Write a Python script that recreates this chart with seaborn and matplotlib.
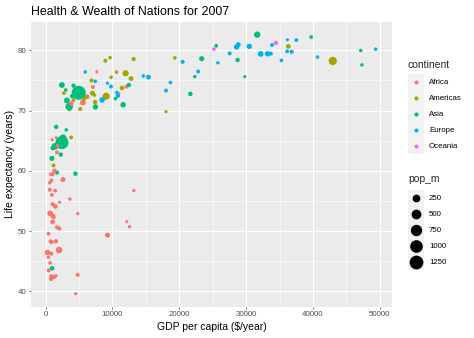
import numpy as np
import pandas as pd
import matplotlib
matplotlib.use("Agg")
import matplotlib.pyplot as plt
import seaborn as sns
from matplotlib.patches import Rectangle
from matplotlib.lines import Line2D

# ---------------- data (gapminder 2007) ----------------
africa_countries = ["Algeria", "Angola", "Benin", "Botswana", "Burkina Faso", "Burundi", "Cameroon",
                    "Central African Republic", "Chad", "Comoros", "Congo, Dem. Rep.", "Congo, Rep.",
                    "Cote d'Ivoire", "Djibouti", "Egypt", "Equatorial Guinea", "Eritrea", "Ethiopia",
                    "Gabon", "Gambia", "Ghana", "Guinea", "Guinea-Bissau", "Kenya", "Lesotho", "Liberia",
                    "Libya", "Madagascar", "Malawi", "Mali", "Mauritania", "Mauritius", "Morocco",
                    "Mozambique", "Namibia", "Niger", "Nigeria", "Reunion", "Rwanda",
                    "Sao Tome and Principe", "Senegal", "Sierra Leone", "Somalia", "South Africa", "Sudan",
                    "Swaziland", "Tanzania", "Togo", "Tunisia", "Uganda", "Zambia", "Zimbabwe"]
africa_gdp = [6223.367, 4797.231, 1441.285, 12569.85, 1217.033, 430.0707, 2042.095, 706.0165, 1704.064,
              986.1479, 277.5519, 3632.558, 1544.750, 2082.482, 5581.181, 12154.09, 641.3695, 690.8056,
              13206.48, 752.7497, 1327.609, 942.6542, 579.2317, 1463.249, 1569.331, 414.5073, 12057.50,
              1044.770, 759.3499, 1042.582, 1803.151, 10956.99, 3820.175, 823.6856, 4811.060, 619.6769,
              2013.977, 7670.123, 863.0885, 1598.435, 1712.473, 862.5408, 926.1411, 9269.658, 2602.395,
              4513.481, 1107.482, 882.9699, 7092.923, 1056.380, 1271.212, 469.7093]
africa_life = [72.301, 42.731, 56.728, 50.728, 52.295, 49.580, 50.430, 44.741, 50.651, 65.152, 46.462,
               55.322, 48.328, 54.791, 71.338, 51.579, 58.040, 52.947, 56.735, 59.448, 60.022, 56.007,
               46.388, 54.110, 42.592, 45.678, 73.952, 59.443, 48.303, 54.467, 64.164, 72.801, 71.164,
               42.082, 52.906, 56.867, 46.859, 76.442, 46.242, 65.528, 63.062, 42.568, 48.159, 49.339,
               58.556, 39.613, 52.517, 58.420, 73.923, 51.542, 42.384, 43.487]
africa_pop = [33.333, 12.420, 8.078, 1.639, 14.326, 8.391, 17.696, 4.369, 10.239, 0.711, 64.607, 3.801,
              18.013, 0.496, 80.265, 0.551, 4.907, 76.512, 1.455, 1.688, 22.873, 9.948, 1.472, 35.610,
              2.013, 3.194, 6.037, 19.168, 13.327, 12.032, 3.270, 1.251, 33.757, 19.952, 2.055, 12.895,
              135.031, 0.798, 8.861, 0.200, 12.267, 6.145, 9.119, 43.998, 42.293, 1.133, 38.140, 5.702,
              10.276, 29.170, 11.746, 12.311]

americas_countries = ["Argentina", "Bolivia", "Brazil", "Canada", "Chile", "Colombia", "Costa Rica", "Cuba",
                      "Dominican Republic", "Ecuador", "El Salvador", "Guatemala", "Haiti", "Honduras",
                      "Jamaica", "Mexico", "Nicaragua", "Panama", "Paraguay", "Peru", "Puerto Rico",
                      "Trinidad and Tobago", "United States", "Uruguay", "Venezuela"]
americas_gdp = [12779.38, 3822.137, 9065.801, 36319.24, 13171.64, 7006.580, 9645.061, 8948.103, 6025.375,
                6873.262, 5728.354, 5186.050, 1201.637, 3548.331, 7320.880, 11977.57, 2749.321, 9809.186,
                4172.838, 7408.906, 19328.71, 18008.51, 42951.65, 10611.46, 11415.81]
americas_life = [75.320, 65.554, 72.390, 80.653, 78.553, 72.889, 78.782, 78.273, 72.235, 74.994, 71.878,
                 70.259, 60.916, 70.198, 72.567, 76.195, 72.899, 75.537, 71.752, 71.421, 78.746, 69.819,
                 78.242, 76.384, 73.747]
americas_pop = [40.302, 9.119, 190.011, 33.390, 16.285, 44.228, 4.134, 11.417, 9.320, 13.756, 6.940,
                12.573, 8.503, 7.484, 2.780, 108.701, 5.675, 3.242, 6.667, 28.675, 3.942, 1.057,
                301.140, 3.447, 26.085]

asia_countries = ["Afghanistan", "Bahrain", "Bangladesh", "Cambodia", "China", "Hong Kong, China", "India",
                  "Indonesia", "Iran", "Iraq", "Israel", "Japan", "Jordan", "Korea, Dem. Rep.",
                  "Korea, Rep.", "Kuwait", "Lebanon", "Malaysia", "Mongolia", "Myanmar", "Nepal", "Oman",
                  "Pakistan", "Philippines", "Saudi Arabia", "Singapore", "Sri Lanka", "Syria", "Taiwan",
                  "Thailand", "Vietnam", "West Bank and Gaza", "Yemen, Rep."]
asia_gdp = [974.5803, 29796.05, 1391.254, 1713.779, 4959.115, 39724.98, 2452.210, 3540.652, 11605.71,
            4471.062, 25523.28, 31656.07, 4519.461, 1593.065, 23348.14, 47306.99, 10461.06, 12451.66,
            3095.772, 944.0000, 1091.360, 22316.19, 2605.948, 3190.481, 21654.83, 47143.18, 3970.095,
            4184.548, 28718.28, 7458.396, 2441.576, 3025.350, 2280.770]
asia_life = [43.828, 75.635, 64.062, 59.723, 72.961, 82.208, 64.698, 70.650, 70.964, 59.545, 80.745, 82.603,
             72.535, 67.297, 78.623, 77.588, 71.993, 74.241, 66.803, 62.069, 63.785, 75.640, 65.483, 71.688,
             72.777, 79.972, 72.396, 74.143, 78.400, 70.616, 74.249, 73.422, 62.698]
asia_pop = [31.890, 0.709, 150.448, 14.132, 1318.683, 6.980, 1110.396, 223.547, 69.454, 27.500, 6.427,
            127.468, 6.053, 23.302, 49.045, 2.506, 3.921, 24.821, 2.874, 47.762, 28.902, 3.205, 169.271,
            91.077, 27.601, 4.553, 20.378, 19.315, 23.174, 65.068, 85.262, 4.018, 22.212]

europe_countries = ["Albania", "Austria", "Belgium", "Bosnia and Herzegovina", "Bulgaria", "Croatia",
                    "Czech Republic", "Denmark", "Finland", "France", "Germany", "Greece", "Hungary",
                    "Iceland", "Ireland", "Italy", "Montenegro", "Netherlands", "Norway", "Poland",
                    "Portugal", "Romania", "Serbia", "Slovak Republic", "Slovenia", "Spain", "Sweden",
                    "Switzerland", "Turkey", "United Kingdom"]
europe_gdp = [5937.030, 36126.49, 33692.61, 7446.299, 10680.79, 14619.22, 22833.31, 35278.42, 33207.08,
              30470.02, 32170.37, 27538.41, 18008.94, 36180.79, 40676.00, 28569.72, 9253.896, 36797.93,
              49357.19, 15389.92, 20509.65, 10808.48, 9786.535, 18678.31, 25768.26, 28821.06, 33859.75,
              37506.42, 8458.276, 33203.26]
europe_life = [76.423, 79.829, 79.441, 74.852, 73.005, 75.748, 76.486, 78.332, 79.313, 80.657, 79.406,
               79.483, 73.338, 81.757, 78.885, 80.546, 74.543, 79.762, 80.196, 75.563, 78.098, 72.476,
               74.002, 74.663, 77.926, 80.941, 80.884, 81.701, 71.777, 79.425]
europe_pop = [3.601, 8.200, 10.392, 4.552, 7.323, 4.493, 10.229, 5.468, 5.238, 61.084, 82.401, 10.706,
              9.956, 0.302, 4.109, 58.148, 0.685, 16.571, 4.628, 38.518, 10.643, 22.276, 10.150, 5.448,
              2.009, 40.448, 9.031, 7.555, 71.159, 60.776]

oceania_countries = ["Australia", "New Zealand"]
oceania_gdp = [34435.37, 25185.01]
oceania_life = [81.235, 80.204]
oceania_pop = [20.434, 4.116]

continents = ["Africa", "Americas", "Asia", "Europe", "Oceania"]
size_breaks = [250, 500, 750, 1000, 1250]

# ---------------- table ----------------
parts = [
    ("Africa", africa_countries, africa_gdp, africa_life, africa_pop),
    ("Americas", americas_countries, americas_gdp, americas_life, americas_pop),
    ("Asia", asia_countries, asia_gdp, asia_life, asia_pop),
    ("Europe", europe_countries, europe_gdp, europe_life, europe_pop),
    ("Oceania", oceania_countries, oceania_gdp, oceania_life, oceania_pop),
]
frames = []
for cont, cc, g, l, p in parts:
    frames.append(pd.DataFrame({"country": cc, "continent": cont, "gdpPercap": g,
                                "lifeExp": l, "pop_m": p}))
df = pd.concat(frames).sort_values("country").reset_index(drop=True)

# ---------------- style ----------------
palette = dict(zip(continents, ["#F8766D", "#A3A500", "#00BF7D", "#00B0F6", "#E76BF3"]))
W, H = 474, 338
PX = 0.78           # image pixels per ggplot point
PT = 72.0 / 100.0   # matplotlib points per pixel at dpi 100

pmin, pmax = df["pop_m"].min(), df["pop_m"].max()


def gg_diam_px(v):
    size = 1 + 5 * np.sqrt(np.clip((v - pmin) / (pmax - pmin), 0, 1))
    return PX * (2.845 * size + 0.945)


size_map = {v: (gg_diam_px(v) * PT) ** 2 for v in df["pop_m"].unique()}

sns.set_theme(style="white")
plt.rcParams["font.family"] = ["Liberation Sans", "DejaVu Sans"]

fig = plt.figure(figsize=(W / 100, H / 100), dpi=100)
L, R, T, B = 31, 392, 21.7, 306.7
ax = fig.add_axes([L / W, 1 - B / H, (R - L) / W, (B - T) / H])
ax.set_facecolor("#EBEBEB")

sns.scatterplot(data=df, x="gdpPercap", y="lifeExp", hue="continent", hue_order=continents,
                palette=palette, size="pop_m", sizes=size_map, linewidth=0, alpha=1,
                legend=False, ax=ax, zorder=3)

xr = df["gdpPercap"].max() - df["gdpPercap"].min()
yr = df["lifeExp"].max() - df["lifeExp"].min()
ax.set_xlim(df["gdpPercap"].min() - 0.05 * xr, df["gdpPercap"].max() + 0.05 * xr)
ax.set_ylim(df["lifeExp"].min() - 0.05 * yr, df["lifeExp"].max() + 0.05 * yr)

ax.set_xticks([0, 10000, 20000, 30000, 40000, 50000])
ax.set_xticks([5000, 15000, 25000, 35000, 45000], minor=True)
ax.set_yticks([40, 50, 60, 70, 80])
ax.set_yticks([45, 55, 65, 75], minor=True)
ax.set_xticklabels(["0", "10000", "20000", "30000", "40000", "50000"])
ax.set_yticklabels(["40", "50", "60", "70", "80"])
ax.grid(which="major", color="white", linewidth=0.85, zorder=1)
ax.grid(which="minor", color="white", linewidth=0.42, zorder=1)
ax.set_axisbelow(True)
for s in ax.spines.values():
    s.set_visible(False)
ax.tick_params(which="major", length=1.5, width=0.5, color="#333333", labelcolor="#4D4D4D",
               labelsize=5.7, pad=1.8, bottom=True, left=True)
ax.tick_params(which="minor", length=0, bottom=False, left=False)
ax.set_xlabel("")
ax.set_ylabel("")


def fx(px):
    return px / W


def fy(py):
    return 1 - py / H


fig.text(fx(31), fy(15), "Health & Wealth of Nations for 2007", fontsize=8.9, color="black",
         ha="left", va="baseline")
fig.text(fx((L + R) / 2), fy(329.5), "GDP per capita ($/year)", fontsize=7.5, color="black",
         ha="center", va="baseline")
fig.text(fx(13.5), fy((T + B) / 2), "Life expectancy (years)", fontsize=7.5, color="black",
         ha="center", va="baseline", rotation=90, rotation_mode="anchor")

# ---------------- legends (ggplot style) ----------------
KX, KW = 408, 16
fig.text(fx(KX), fy(67.5), "continent", fontsize=7.5, ha="left", va="baseline")
y0 = 74
for i, c in enumerate(continents):
    top = y0 + i * KW
    fig.add_artist(Rectangle((fx(KX), fy(top + KW)), KW / W, KW / H, transform=fig.transFigure,
                             facecolor="#F2F2F2", edgecolor="none"))
    fig.add_artist(Line2D([fx(KX + KW / 2)], [fy(top + KW / 2)], transform=fig.transFigure,
                          marker="o", linestyle="none", markersize=PX * (2.845 * 1.5 + 0.945) * PT,
                          markerfacecolor=palette[c], markeredgewidth=0))
    fig.text(fx(429), fy(top + KW / 2), c, fontsize=5.7, ha="left", va="center_baseline",
             color="black")

fig.text(fx(KX), fy(181.5), "pop_m", fontsize=7.5, ha="left", va="baseline")
y1 = 190
for i, v in enumerate(size_breaks):
    top = y1 + i * KW
    fig.add_artist(Rectangle((fx(KX), fy(top + KW)), KW / W, KW / H, transform=fig.transFigure,
                             facecolor="#F2F2F2", edgecolor="none"))
    fig.add_artist(Line2D([fx(KX + KW / 2)], [fy(top + KW / 2)], transform=fig.transFigure,
                          marker="o", linestyle="none", markersize=gg_diam_px(v) * PT,
                          markerfacecolor="black", markeredgewidth=0))
    fig.text(fx(429), fy(top + KW / 2), str(v), fontsize=5.7, ha="left", va="center_baseline",
             color="black")

fig.savefig("out.png", dpi=100)
